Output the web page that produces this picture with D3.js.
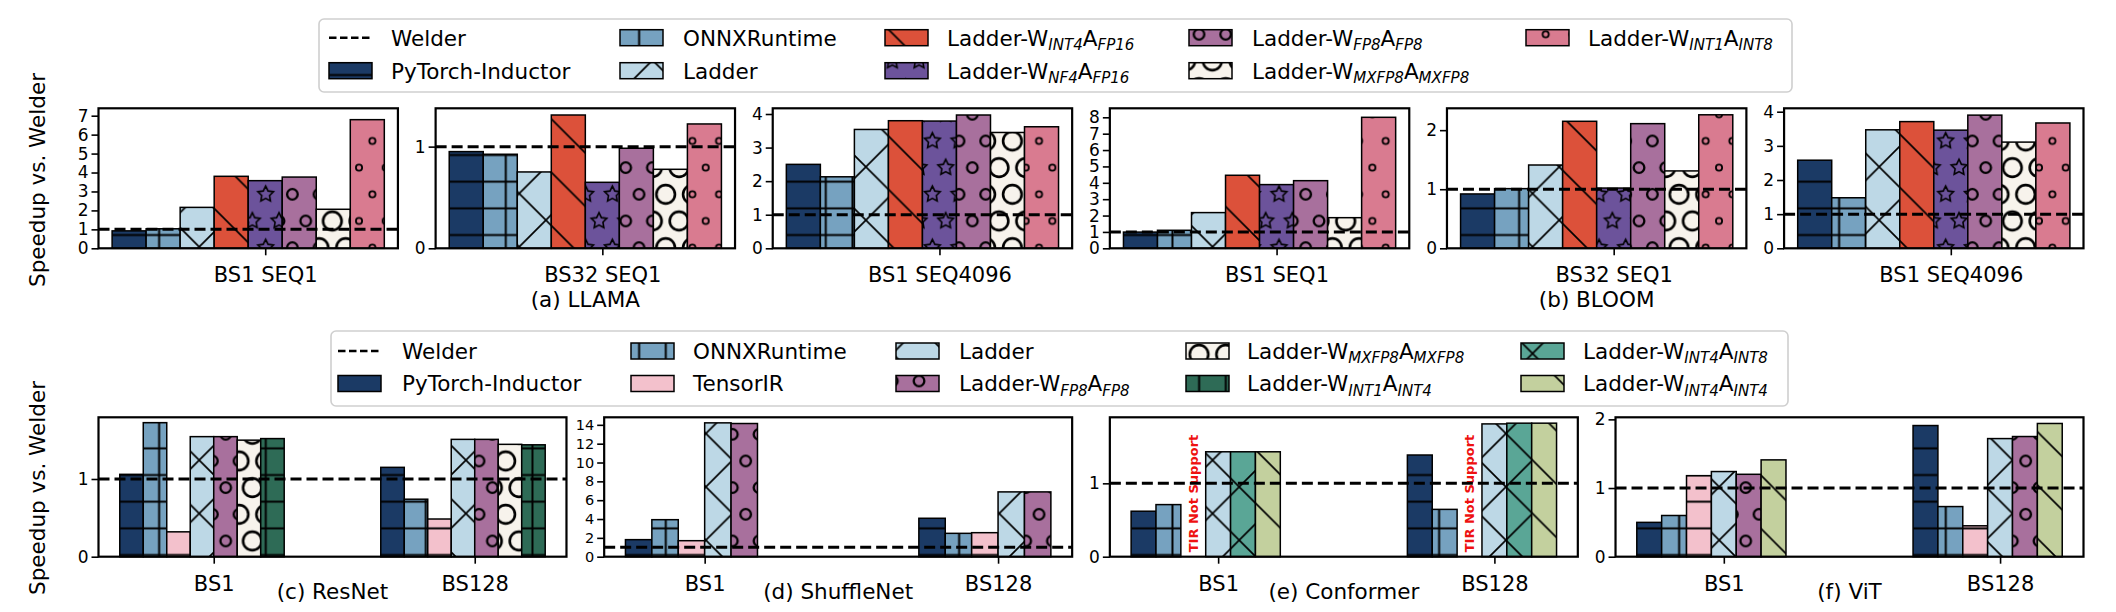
<!DOCTYPE html>
<html><head><meta charset="utf-8">
<script src="https://cdn.jsdelivr.net/npm/d3@7"></script>
<style>body{margin:0;background:#fff}</style>
</head><body>
<svg id="chart" width="2116" height="612"></svg>
<script>
// ================= DATA =================
const topSeries = ["PyTorch-Inductor","ONNXRuntime","Ladder","Ladder-W{INT4}A{FP16}","Ladder-W{NF4}A{FP16}","Ladder-W{FP8}A{FP8}","Ladder-W{MXFP8}A{MXFP8}","Ladder-W{INT1}A{INT8}"];
const topCategories = ["BS1 SEQ1","BS32 SEQ1","BS1 SEQ4096","BS1 SEQ1","BS32 SEQ1","BS1 SEQ4096"];
const llamaBS1SEQ1    = [0.92, 1.03, 2.16, 3.80, 3.57, 3.76, 2.06, 6.79];
const llamaBS32SEQ1   = [0.951,0.925,0.751,1.311,0.649,0.984,0.777,1.223];
const llamaBS1SEQ4096 = [2.50, 2.13, 3.54, 3.80, 3.79, 3.97, 3.45, 3.62];
const bloomBS1SEQ1    = [0.99, 1.10, 2.18, 4.46, 3.89, 4.13, 1.87, 8.00];
const bloomBS32SEQ1   = [0.92, 1.01, 1.41, 2.15, 1.02, 2.11, 1.31, 2.26];
const bloomBS1SEQ4096 = [2.58, 1.48, 3.47, 3.71, 3.46, 3.90, 3.11, 3.67];
const topYMax   = [7.39, 1.377, 4.17, 8.55, 2.37, 4.10];
const topYTicks = [[0,1,2,3,4,5,6,7],[0,1],[0,1,2,3,4],[0,1,2,3,4,5,6,7,8],[0,1,2],[0,1,2,3,4]];
const topCaptions = ["(a) LLAMA","(b) BLOOM"];

const bottomGroups = ["BS1","BS128"];
const resnetSeries = ["PyTorch-Inductor","ONNXRuntime","TensorIR","Ladder","Ladder-W{FP8}A{FP8}","Ladder-W{MXFP8}A{MXFP8}","Ladder-W{INT1}A{INT4}"];
const resnetBS1   = [1.06, 1.725, 0.32, 1.545, 1.545, 1.50, 1.52];
const resnetBS128 = [1.15, 0.74, 0.485, 1.51, 1.51, 1.446, 1.44];
const shufflenetSeries = ["PyTorch-Inductor","ONNXRuntime","TensorIR","Ladder","Ladder-W{FP8}A{FP8}"];
const shufflenetBS1   = [1.81, 3.93, 1.70, 14.21, 14.14];
const shufflenetBS128 = [4.08, 2.48, 2.55, 6.88, 6.88];
const conformerSeries = ["PyTorch-Inductor","ONNXRuntime","TensorIR","Ladder","Ladder-W{INT4}A{INT8}","Ladder-W{INT4}A{INT4}"];
const conformerBS1   = [0.62, 0.71, null, 1.43, 1.43, 1.43];
const conformerBS128 = [1.386, 0.645, null, 1.81, 1.82, 1.82];
const vitSeries = ["PyTorch-Inductor","ONNXRuntime","TensorIR","Ladder","Ladder-W{FP8}A{FP8}","Ladder-W{INT4}A{INT4}"];
const vitBS1   = [0.50, 0.60, 1.18, 1.24, 1.20, 1.41];
const vitBS128 = [1.91, 0.73, 0.45, 1.72, 1.75, 1.94];
const bottomYMax   = [1.794, 14.8, 1.9, 2.03];
const bottomYTicks = [[0,1],[0,2,4,6,8,10,12,14],[0,1],[0,1,2]];
const bottomCaptions = ["(c) ResNet","(d) ShuffleNet","(e) Conformer","(f) ViT"];
const notSupportedText = "TIR Not Support";

const topLegend = ["Welder","PyTorch-Inductor","ONNXRuntime","Ladder","Ladder-W{INT4}A{FP16}","Ladder-W{NF4}A{FP16}","Ladder-W{FP8}A{FP8}","Ladder-W{MXFP8}A{MXFP8}","Ladder-W{INT1}A{INT8}"];
const bottomLegend = ["Welder","PyTorch-Inductor","ONNXRuntime","TensorIR","Ladder","Ladder-W{FP8}A{FP8}","Ladder-W{MXFP8}A{MXFP8}","Ladder-W{INT1}A{INT4}","Ladder-W{INT4}A{INT8}","Ladder-W{INT4}A{INT4}"];
const yLabel = "Speedup vs. Welder";

// ================= STYLE =================
const FONT = "DejaVu Sans";
const styles = {
  "PyTorch-Inductor":        {fill:"#1b3a65", hatch:"h"},
  "ONNXRuntime":             {fill:"#76a2c0", hatch:"plus"},
  "TensorIR":                {fill:"#f3c1cc", hatch:"h"},
  "Ladder":                  {fill:"#bdd8e6", hatch:"x"},
  "Ladder-W{INT4}A{FP16}":   {fill:"#dc513a", hatch:"back"},
  "Ladder-W{NF4}A{FP16}":    {fill:"#6c539b", hatch:"star"},
  "Ladder-W{FP8}A{FP8}":     {fill:"#a8709d", hatch:"o"},
  "Ladder-W{MXFP8}A{MXFP8}": {fill:"#f7f3ec", hatch:"O"},
  "Ladder-W{INT1}A{INT8}":   {fill:"#d97b90", hatch:"dot"},
  "Ladder-W{INT1}A{INT4}":   {fill:"#2e6b56", hatch:"plus"},
  "Ladder-W{INT4}A{INT8}":   {fill:"#5aa696", hatch:"x"},
  "Ladder-W{INT4}A{INT4}":   {fill:"#c3d09e", hatch:"back"}
};

const svg = d3.select("#chart");
const defs = svg.append("defs");
const P = 160/6;       // hatch spacing
const S = 2*P;         // diagonal hatch spacing
const HW = 2.0;        // hatch line width
const patIds = {};
Object.keys(styles).forEach((name, k) => {
  const st = styles[name];
  const id = "pat" + k;
  patIds[name] = id;
  let pat;
  const mk = (w, h, x, y) => defs.append("pattern").attr("id", id)
      .attr("patternUnits","userSpaceOnUse").attr("width", w).attr("height", h)
      .attr("x", x).attr("y", y);
  if (st.hatch === "h") {
    pat = mk(P, P, 0, 21.7 - P/2);
    pat.append("rect").attr("width", P).attr("height", P).attr("fill", st.fill);
    pat.append("path").attr("d", `M0,${P/2}H${P}`).attr("stroke","#000").attr("stroke-width",HW);
  } else if (st.hatch === "plus") {
    pat = mk(P, P, 25.8 - P/2, 21.7 - P/2);
    pat.append("rect").attr("width", P).attr("height", P).attr("fill", st.fill);
    pat.append("path").attr("d", `M0,${P/2}H${P}M${P/2},0V${P}`).attr("stroke","#000").attr("stroke-width",HW);
  } else if (st.hatch === "x" || st.hatch === "back") {
    pat = mk(S, S, 12.55, 6.85);
    pat.append("rect").attr("width", S).attr("height", S).attr("fill", st.fill);
    let d = `M-2,${S-2}L2,${S+2}M0,0L${S},${S}M${S-2},-2L${S+2},2`;
    if (st.hatch === "x") d += `M-2,2L2,-2M0,${S}L${S},0M${S-2},${S+2}L${S+2},${S-2}`;
    pat.append("path").attr("d", d).attr("stroke","#000").attr("stroke-width",1.7);
  } else {
    pat = mk(P, 2*P, 12.37, 20.97);
    pat.append("rect").attr("width", P).attr("height", 2*P).attr("fill", st.fill);
    const centers = [[P/2, P/2],[0, 1.5*P],[P, 1.5*P]];
    centers.forEach(([cx, cy]) => {
      if (st.hatch === "star") {
        const R = 8.2, r = R*0.5;
        const pts = d3.range(10).map(j => {
          const a = -Math.PI/2 + j*Math.PI/5, rr = j%2 ? r : R;
          return [cx + rr*Math.cos(a), cy + rr*Math.sin(a)];
        });
        pat.append("path").attr("d", "M" + pts.map(p=>p.join(",")).join("L") + "Z")
          .attr("fill","none").attr("stroke","#000").attr("stroke-width",1.6).attr("stroke-linejoin","miter");
      } else {
        const rad = st.hatch === "o" ? 5.3 : st.hatch === "O" ? 9.3 : 3.1;
        const sw = st.hatch === "O" ? 2.6 : st.hatch === "o" ? 2.3 : 1.8;
        pat.append("circle").attr("cx", cx).attr("cy", cy).attr("r", rad)
          .attr("fill","none").attr("stroke","#000").attr("stroke-width", sw);
      }
    });
  }
});

function addLabel(sel, label, fs) {
  const parts = label.split(/(\{[^}]*\})/).filter(s => s.length);
  let shifted = false;
  const sh = fs*0.2;
  parts.forEach(p => {
    if (p.startsWith("{")) {
      sel.append("tspan").text(p.slice(1,-1)).attr("font-size", fs*0.7)
        .attr("font-style","italic").attr("dy", shifted ? 0 : sh);
      shifted = true;
    } else {
      sel.append("tspan").text(p).attr("dy", shifted ? -sh : 0);
      shifted = false;
    }
  });
}

// ================= LAYOUT =================
const L = 98.5, R = 2083.5, GAP = 37.7;
const topW = (R - L - 5*GAP)/6, botW = (R - L - 3*GAP)/4;
const TOP = {y0:108.3, y1:248.3}, BOT = {y0:417.3, y1:556.7};

function drawPanel(box, series, groupLabels, values, yMax, yTicks, w, yFont, naText) {
  const n = series.length, G = groupLabels.length;
  const minL = -(n/2 + 0.5)*w, maxR = (G-1) + (n/2 - 0.5)*w;
  const pad = (maxR - minL)*0.05;
  const x = d3.scaleLinear().domain([minL - pad, maxR + pad]).range([box.x0, box.x1]);
  const y = d3.scaleLinear().domain([0, yMax]).range([box.y1, box.y0]);
  const g = svg.append("g");
  groupLabels.forEach((gl, gi) => {
    series.forEach((s, i) => {
      const c = gi + (i - n/2)*w;
      const v = values[gi][i];
      if (v == null) {
        if (naText) {
          g.append("text").attr("transform", `translate(${x(c) + 4.5},${y(0.06)}) rotate(-90)`)
            .attr("font-family", FONT).attr("font-weight","bold").attr("font-size",13)
            .attr("fill","#ee1111").text(naText);
        }
        return;
      }
      g.append("rect").attr("x", x(c - w/2)).attr("width", x(c + w/2) - x(c - w/2))
        .attr("y", y(v)).attr("height", y(0) - y(v))
        .attr("fill", `url(#${patIds[s]})`).attr("stroke","#000").attr("stroke-width",1.5);
    });
  });
  // Welder baseline
  g.append("line").attr("x1", box.x0).attr("x2", box.x1).attr("y1", y(1)).attr("y2", y(1))
    .attr("stroke","#000").attr("stroke-width",3).attr("stroke-dasharray","11,5");
  // axes
  const xa = g.append("g").attr("transform", `translate(0,${box.y1})`)
    .call(d3.axisBottom(x).tickValues(groupLabels.map((d,i)=>i)).tickFormat((d,i)=>groupLabels[i])
      .tickSize(7).tickSizeOuter(0).tickPadding(12));
  xa.selectAll("text").attr("font-family", FONT).attr("font-size", 21).attr("fill","#000");
  const ya = g.append("g").attr("transform", `translate(${box.x0},0)`)
    .call(d3.axisLeft(y).tickValues(yTicks).tickFormat(d3.format("d")).tickSize(7).tickSizeOuter(0).tickPadding(3));
  ya.selectAll("text").attr("font-family", FONT).attr("font-size", yFont).attr("fill","#000");
  [xa, ya].forEach(a => { a.select(".domain").remove(); a.selectAll("line").attr("stroke","#000").attr("stroke-width",1.6); });
  g.append("rect").attr("x", box.x0).attr("y", box.y0).attr("width", box.x1 - box.x0).attr("height", box.y1 - box.y0)
    .attr("fill","none").attr("stroke","#000").attr("stroke-width",2.2);
}

const topValues = [llamaBS1SEQ1, llamaBS32SEQ1, llamaBS1SEQ4096, bloomBS1SEQ1, bloomBS32SEQ1, bloomBS1SEQ4096];
topValues.forEach((vals, p) => {
  const x0 = L + p*(topW + GAP);
  drawPanel({x0, x1:x0 + topW, y0:TOP.y0, y1:TOP.y1}, topSeries, [topCategories[p]], [vals],
            topYMax[p], topYTicks[p], 0.1, 17, null);
});
[1, 4].forEach((p, k) => {
  const cx = L + p*(topW + GAP) + topW/2;
  svg.append("text").attr("x", cx).attr("y", 307).attr("text-anchor","middle")
    .attr("font-family", FONT).attr("font-size", 21.5).text(topCaptions[k]);
});

const bottomPanels = [
  [resnetSeries, [resnetBS1, resnetBS128]],
  [shufflenetSeries, [shufflenetBS1, shufflenetBS128]],
  [conformerSeries, [conformerBS1, conformerBS128]],
  [vitSeries, [vitBS1, vitBS128]]
];
bottomPanels.forEach(([series, vals], p) => {
  const x0 = L + p*(botW + GAP);
  drawPanel({x0, x1:x0 + botW, y0:BOT.y0, y1:BOT.y1}, series, bottomGroups, vals,
            bottomYMax[p], bottomYTicks[p], 0.09, p === 1 ? 14.5 : 17, notSupportedText);
  svg.append("text").attr("x", x0 + botW/2).attr("y", 599).attr("text-anchor","middle")
    .attr("font-family", FONT).attr("font-size", 21.5).text(bottomCaptions[p]);
});

// Y labels
[180, 488].forEach(cy => {
  svg.append("text").attr("transform", `translate(37,${cy}) rotate(-90)`)
    .attr("text-anchor","middle").attr("dominant-baseline","central")
    .attr("font-family", FONT).attr("font-size", 21.5).text(yLabel);
});

// ================= LEGENDS =================
function drawLegend(items, box, patchX, textX, rowY) {
  const g = svg.append("g");
  g.append("rect").attr("x", box.x).attr("y", box.y).attr("width", box.w).attr("height", box.h)
    .attr("rx", 5).attr("fill","#fff").attr("fill-opacity",0.85).attr("stroke","#cfcfcf").attr("stroke-width",1.6);
  items.forEach((name, k) => {
    const col = Math.floor(k/2), row = k % 2;
    const px = patchX[col], cy = rowY[row];
    if (name === "Welder") {
      g.append("line").attr("x1", px).attr("x2", px + 43).attr("y1", cy).attr("y2", cy)
        .attr("stroke","#000").attr("stroke-width",2.6).attr("stroke-dasharray","7.5,3.5");
    } else {
      g.append("rect").attr("x", px).attr("y", cy - 8).attr("width", 43).attr("height", 16)
        .attr("fill", `url(#${patIds[name]})`).attr("stroke","#000").attr("stroke-width",1.5);
    }
    const t = g.append("text").attr("x", textX[col]).attr("y", cy + 7.8)
      .attr("font-family", FONT).attr("font-size", 21.5).attr("fill","#000");
    addLabel(t, name, 21.5);
  });
}
drawLegend(topLegend, {x:319, y:19, w:1473, h:73}, [329,620,885,1189,1526], [391,683,947,1252,1588], [37.7,70.7]);
drawLegend(bottomLegend, {x:331, y:331, w:1457, h:75}, [338,631,896,1186,1521], [402,693,959,1247,1583], [351,383.5]);
</script>
</body></html>
